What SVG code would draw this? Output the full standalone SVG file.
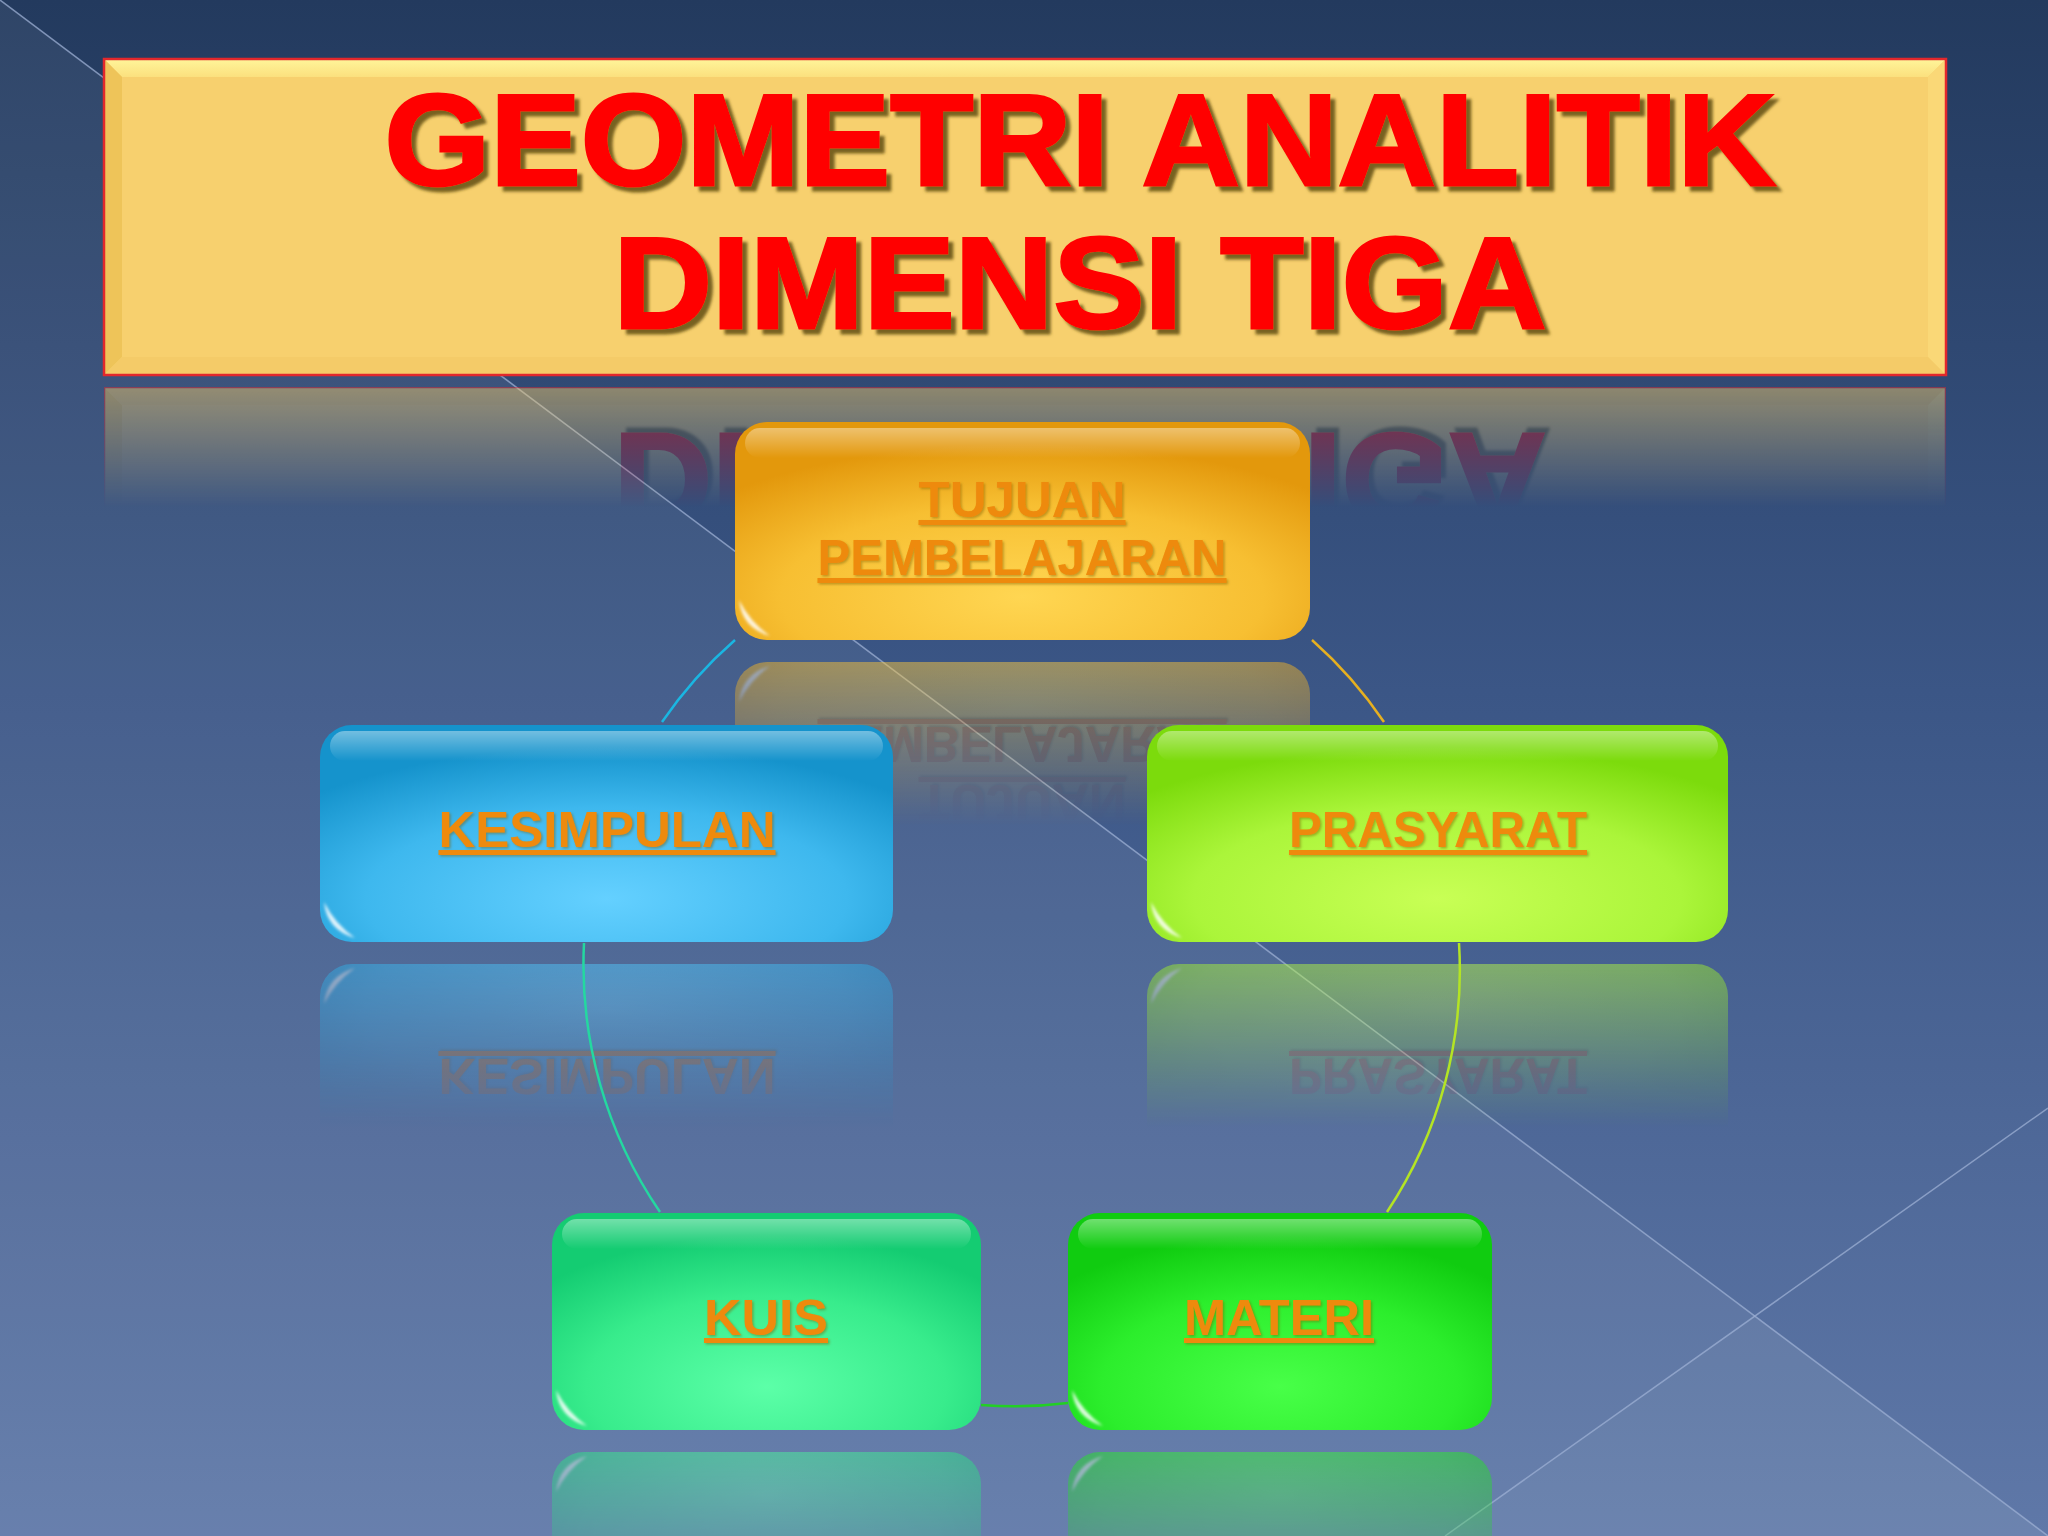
<svg xmlns="http://www.w3.org/2000/svg" xmlns:xlink="http://www.w3.org/1999/xlink" width="2048" height="1536" viewBox="0 0 2048 1536">
<style>
.title{font-family:"Liberation Sans",Arial,sans-serif;font-weight:bold;font-size:130px;fill:#FF0000;stroke:#FF0000;stroke-width:3;text-anchor:middle;filter:url(#tshadow)}
.lbl{font-family:"Liberation Sans",Arial,sans-serif;font-weight:bold;font-size:50px;fill:#EE8A0A;text-anchor:middle;text-decoration:underline;filter:url(#lshadow)}
.hl{fill:url(#hlG)}
.shine{fill:#FFFFFF;opacity:0.85;filter:url(#soft)}
.conn{fill:none;stroke-width:2.5}
.bgline{stroke:#9DB0D4;stroke-width:1.5;opacity:0.75}
</style>
<defs>
<linearGradient id="bgG" x1="0" y1="0" x2="0" y2="1">
<stop offset="0" stop-color="#233A5E"/><stop offset="0.45" stop-color="#3B5686"/><stop offset="1" stop-color="#5F78A8"/>
</linearGradient>
<linearGradient id="hlG" x1="0" y1="0" x2="0" y2="1">
<stop offset="0" stop-color="#FFFFFF" stop-opacity="0.4"/><stop offset="1" stop-color="#FFFFFF" stop-opacity="0"/>
</linearGradient>
<radialGradient id="rg-tujuan" cx="0.5" cy="0.8" r="0.7"><stop offset="0" stop-color="#FFD652"/><stop offset="0.6" stop-color="#F7BF32"/><stop offset="1" stop-color="#E3980C"/></radialGradient>
<radialGradient id="rg-kesimpulan" cx="0.5" cy="0.8" r="0.7"><stop offset="0" stop-color="#64D0FF"/><stop offset="0.6" stop-color="#3EB8EE"/><stop offset="1" stop-color="#1593CC"/></radialGradient>
<radialGradient id="rg-prasyarat" cx="0.5" cy="0.8" r="0.7"><stop offset="0" stop-color="#C8FF55"/><stop offset="0.6" stop-color="#ABF53A"/><stop offset="1" stop-color="#7CDB0C"/></radialGradient>
<radialGradient id="rg-kuis" cx="0.5" cy="0.8" r="0.7"><stop offset="0" stop-color="#5CFFA8"/><stop offset="0.6" stop-color="#38EC8C"/><stop offset="1" stop-color="#14CC72"/></radialGradient>
<radialGradient id="rg-materi" cx="0.5" cy="0.8" r="0.7"><stop offset="0" stop-color="#48FF48"/><stop offset="0.6" stop-color="#2CEE2C"/><stop offset="1" stop-color="#10CC10"/></radialGradient>
<linearGradient id="titleTop" x1="0" y1="0" x2="0" y2="1"><stop offset="0" stop-color="#FFF59A"/><stop offset="1" stop-color="#FBE07E"/></linearGradient>
<linearGradient id="fadeG" x1="0" y1="0" x2="0" y2="1"><stop offset="0" stop-color="#000"/><stop offset="0.25" stop-color="#000"/><stop offset="1" stop-color="#808080"/></linearGradient>
<linearGradient id="fadeT" x1="0" y1="0" x2="0" y2="1"><stop offset="0" stop-color="#000"/><stop offset="0.62" stop-color="#000"/><stop offset="1" stop-color="#7A7A7A"/></linearGradient>
<mask id="fadeM" maskContentUnits="objectBoundingBox"><rect x="0" y="0" width="1" height="1" fill="url(#fadeG)"/></mask>
<mask id="fadeMT" maskContentUnits="objectBoundingBox"><rect x="0" y="0" width="1" height="1" fill="url(#fadeT)"/></mask>
<filter id="tshadow" x="-5%" y="-20%" width="110%" height="140%"><feDropShadow dx="5" dy="5" stdDeviation="1.5" flood-color="#6A5414" flood-opacity="0.9"/></filter>
<filter id="lshadow" x="-5%" y="-20%" width="110%" height="140%"><feDropShadow dx="1.5" dy="1.5" stdDeviation="1" flood-color="#7A5A10" flood-opacity="0.45"/></filter>
<filter id="soft" x="-50%" y="-50%" width="200%" height="200%"><feGaussianBlur stdDeviation="1.5"/></filter>
</defs>

<g id="background">
<rect x="0" y="0" width="2048" height="1536" fill="url(#bgG)"/>
<polygon points="0,0 2048,1536 0,1536" fill="#FFFFFF" opacity="0.06"/>
<polygon points="1755,1316 1445,1536 2048,1536" fill="#FFFFFF" opacity="0.03"/>
<line class="bgline" x1="0" y1="0" x2="2048" y2="1536"/>
<line class="bgline" x1="2048" y1="1108" x2="1445" y2="1536"/>
</g>

<g id="title">
<rect x="104" y="59" width="1842" height="316" fill="#F7D06E"/>
<polygon points="104,59 1946,59 1928,77 122,77" fill="url(#titleTop)"/>
<polygon points="104,59 122,77 122,357 104,375" fill="#EEC459"/>
<polygon points="1946,59 1928,77 1928,357 1946,375" fill="#FAD877"/>
<polygon points="104,375 122,357 1928,357 1946,375" fill="#F4CB68"/>
<rect x="104" y="59" width="1842" height="316" fill="none" stroke="#E2282C" stroke-width="2.5"/>
<text class="title" x="1080" y="185" textLength="1391" lengthAdjust="spacingAndGlyphs">GEOMETRI ANALITIK</text>
<text class="title" x="1080" y="328" textLength="933" lengthAdjust="spacingAndGlyphs">DIMENSI TIGA</text>
</g>

<g id="reflections">
<use href="#title" transform="translate(0,762) scale(1,-1)" mask="url(#fadeMT)"/>
<use href="#node-tujuan" transform="translate(0,1302) scale(1,-1)" mask="url(#fadeM)"/>
<use href="#node-kesimpulan" transform="translate(0,1906) scale(1,-1)" mask="url(#fadeM)"/>
<use href="#node-prasyarat" transform="translate(0,1906) scale(1,-1)" mask="url(#fadeM)"/>
<use href="#node-kuis" transform="translate(0,2882) scale(1,-1)" mask="url(#fadeM)"/>
<use href="#node-materi" transform="translate(0,2882) scale(1,-1)" mask="url(#fadeM)"/>
</g>

<g id="connectors">
<path class="conn" stroke="#1AB6E2" d="M662,722 A438,438 0 0 1 735,640"/>
<path class="conn" stroke="#E6B020" d="M1312,640 A438,438 0 0 1 1384,722"/>
<path class="conn" stroke="#B4E424" d="M1459,943 A438,438 0 0 1 1387,1212"/>
<path class="conn" stroke="#22D024" d="M1068,1403 A438,438 0 0 1 981,1405"/>
<path class="conn" stroke="#24D8A0" d="M660,1212 A438,438 0 0 1 584,943"/>
</g>

<g id="node-tujuan">
<rect x="735" y="422" width="575" height="218" rx="32" fill="url(#rg-tujuan)"/>
<rect class="hl" x="745" y="428" width="555" height="30" rx="15"/>
<path class="shine" d="M739,600 Q742,628 770,636 Q750,622 739,600 Z"/>
<text class="lbl" x="1022" y="517" textLength="207" lengthAdjust="spacingAndGlyphs">TUJUAN</text>
<text class="lbl" x="1022" y="575" textLength="409" lengthAdjust="spacingAndGlyphs">PEMBELAJARAN</text>
</g>

<g id="node-kesimpulan">
<rect x="320" y="725" width="573" height="217" rx="32" fill="url(#rg-kesimpulan)"/>
<rect class="hl" x="330" y="731" width="553" height="30" rx="15"/>
<path class="shine" d="M324,902 Q327,930 355,938 Q335,924 324,902 Z"/>
<text class="lbl" x="607" y="847" textLength="337" lengthAdjust="spacingAndGlyphs">KESIMPULAN</text>
</g>

<g id="node-prasyarat">
<rect x="1147" y="725" width="581" height="217" rx="32" fill="url(#rg-prasyarat)"/>
<rect class="hl" x="1157" y="731" width="561" height="30" rx="15"/>
<path class="shine" d="M1151,902 Q1154,930 1182,938 Q1162,924 1151,902 Z"/>
<text class="lbl" x="1438" y="847" textLength="298" lengthAdjust="spacingAndGlyphs">PRASYARAT</text>
</g>

<g id="node-kuis">
<rect x="552" y="1213" width="429" height="217" rx="32" fill="url(#rg-kuis)"/>
<rect class="hl" x="562" y="1219" width="409" height="30" rx="15"/>
<path class="shine" d="M556,1390 Q559,1418 587,1426 Q567,1412 556,1390 Z"/>
<text class="lbl" x="766" y="1335" textLength="124" lengthAdjust="spacingAndGlyphs">KUIS</text>
</g>

<g id="node-materi">
<rect x="1068" y="1213" width="424" height="217" rx="32" fill="url(#rg-materi)"/>
<rect class="hl" x="1078" y="1219" width="404" height="30" rx="15"/>
<path class="shine" d="M1072,1390 Q1075,1418 1103,1426 Q1083,1412 1072,1390 Z"/>
<text class="lbl" x="1279" y="1335" textLength="190" lengthAdjust="spacingAndGlyphs">MATERI</text>
</g>
</svg>
